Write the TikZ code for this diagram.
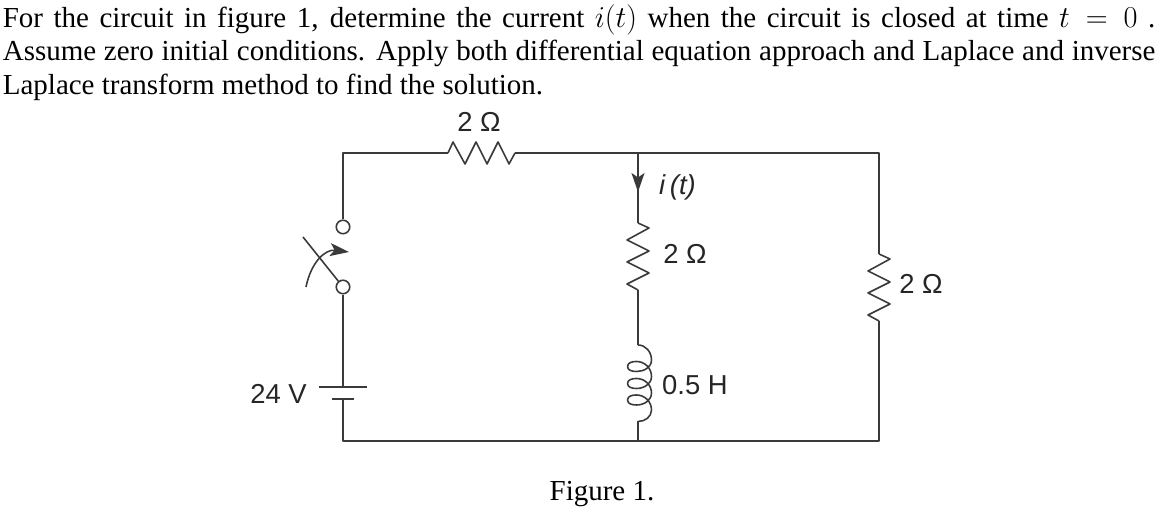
\documentclass[tikz,border=0pt]{standalone}
\usepackage{amsmath}
\usepackage{fontspec}
\setmainfont{Liberation Serif}
\newfontfamily\labelfont{Liberation Sans}
\usepackage{xcolor}
\usepackage{tikz}
\usetikzlibrary{arrows.meta}
\definecolor{wirecol}{HTML}{3A3A3A}
\tikzstyle{wire} = [draw=wirecol, line width=0.9pt, line join=round]
\tikzstyle{val} = [text=black!85, font=\labelfont\fontsize{15.6}{17}\selectfont, inner sep=0pt]
\tikzstyle{term} = [circle, draw=wirecol, line width=0.9pt, fill=white, minimum size=0.27cm, inner sep=0pt]
\tikzstyle{para} = [text width=23.05cm, align=justify, inner sep=0pt, font=\fontsize{16.5}{19}\selectfont]
\tikzstyle{line} = [wire, -{Stealth[length=0.38cm, width=0.26cm, inset=0.09cm]}]

\begin{document}
\begin{tikzpicture}
        \useasboundingbox (0, 0) rectangle (23.28, 10.4);
        % Place nodes
        \node at (0.05, 10.31) [para, anchor=north west] (problem) {For the circuit in figure 1, determine the current $i(t)$ when the circuit is closed at time $t=0$ .\linebreak Assume zero initial conditions. Apply both differential equation approach and Laplace and inverse\linebreak Laplace transform method to find the solution.};
        \node at (9.58, 7.96) [val] (valtop) {2 Ω};
        \node at (5.57, 2.52) [val] (valbat) {24 V};
        \node at (13.55, 6.66) [val] (cur) {\itshape i\,(t)};
        \node at (13.7, 5.33) [val] (valmid) {2 Ω};
        \node at (13.9, 2.7) [val] (valind) {0.5 H};
        \node at (18.42, 4.73) [val] (valright) {2 Ω};
        \node at (12.04, 0.52) [inner sep=0pt, font=\fontsize{16.5}{19}\selectfont] (figname) {Figure 1.};
        \node at (6.86, 5.86) [term] (sw1) {};
        \node at (6.86, 4.66) [term] (sw2) {};

        % Corners and component ends
        \coordinate (tl) at (6.86, 7.34);
        \coordinate (tm) at (12.76, 7.34);
        \coordinate (tr) at (17.58, 7.34);
        \coordinate (bl) at (6.86, 1.58);
        \coordinate (bm) at (12.76, 1.58);
        \coordinate (br) at (17.58, 1.58);
        \coordinate (r1in) at (8.96, 7.34);
        \coordinate (r1out) at (10.3, 7.34);
        \coordinate (curtip) at (12.76, 6.56);
        \coordinate (r2in) at (12.76, 5.94);
        \coordinate (r2out) at (12.76, 4.6);
        \coordinate (l1in) at (12.76, 3.5);
        \coordinate (l1out) at (12.76, 1.97);
        \coordinate (r3in) at (17.58, 5.32);
        \coordinate (r3out) at (17.58, 3.98);
        \coordinate (batlong) at (6.86, 2.66);
        \coordinate (batshort) at (6.86, 2.42);
        \coordinate (blade) at (6.06, 5.66);
        \coordinate (swa) at (6.12, 4.66);
        \coordinate (swb) at (6.98, 5.36);

        % Draw wires
        \path [wire] (sw1) -- (tl) -- (r1in);
        \path [wire] (r1out) -- (tr) -- (r3in);
        \path [wire] (r3out) -- (br) -- (bl) -- (batshort);
        \path [wire] (sw2) -- (batlong);
        \path [wire] (sw2) -- (blade);
        \path [wire] (tm) -- (r2in);
        \path [wire] (r2out) -- (l1in);
        \path [wire] (l1out) -- (bm);

        % Draw resistors
        \path [wire] (r1in) -- ++(0.1, 0.22) -- ++(0.24, -0.44) -- ++(0.22, 0.44) -- ++(0.22, -0.44) -- ++(0.22, 0.44) -- ++(0.22, -0.44) -- (r1out);
        \path [wire] (r2in) -- ++(0.22, -0.1) -- ++(-0.44, -0.24) -- ++(0.44, -0.22) -- ++(-0.44, -0.22) -- ++(0.44, -0.22) -- ++(-0.44, -0.22) -- (r2out);
        \path [wire] (r3in) -- ++(0.22, -0.1) -- ++(-0.44, -0.24) -- ++(0.44, -0.22) -- ++(-0.44, -0.22) -- ++(0.44, -0.22) -- ++(-0.44, -0.22) -- (r3out);

        % Draw inductor
        \path [wire] (l1in) to[out=0, in=90] (13.03, 3.2) to[out=-90, in=0] (12.73, 2.97) to[out=180, in=-90] (12.55, 3.07) to[out=90, in=180] (12.73, 3.17)
            to[out=0, in=90] (13.03, 2.87) to[out=-90, in=0] (12.73, 2.63) to[out=180, in=-90] (12.55, 2.73) to[out=90, in=180] (12.73, 2.83)
            to[out=0, in=90] (13.03, 2.54) to[out=-90, in=0] (12.73, 2.3) to[out=180, in=-90] (12.55, 2.4) to[out=90, in=180] (12.73, 2.5)
            to[out=0, in=90] (13.03, 2.2) to[out=-90, in=0] (l1out);

        % Draw battery plates
        \path [wire] ([xshift=-0.48cm]batlong) -- ([xshift=0.48cm]batlong);
        \path [wire] ([xshift=-0.22cm]batshort) -- ([xshift=0.22cm]batshort);

        % Draw arrows
        \path [line] (swa) .. controls (6.22, 5.15) and (6.5, 5.42) .. (swb);
        \path [line] (tm) -- (curtip);
\end{tikzpicture}
\end{document}
